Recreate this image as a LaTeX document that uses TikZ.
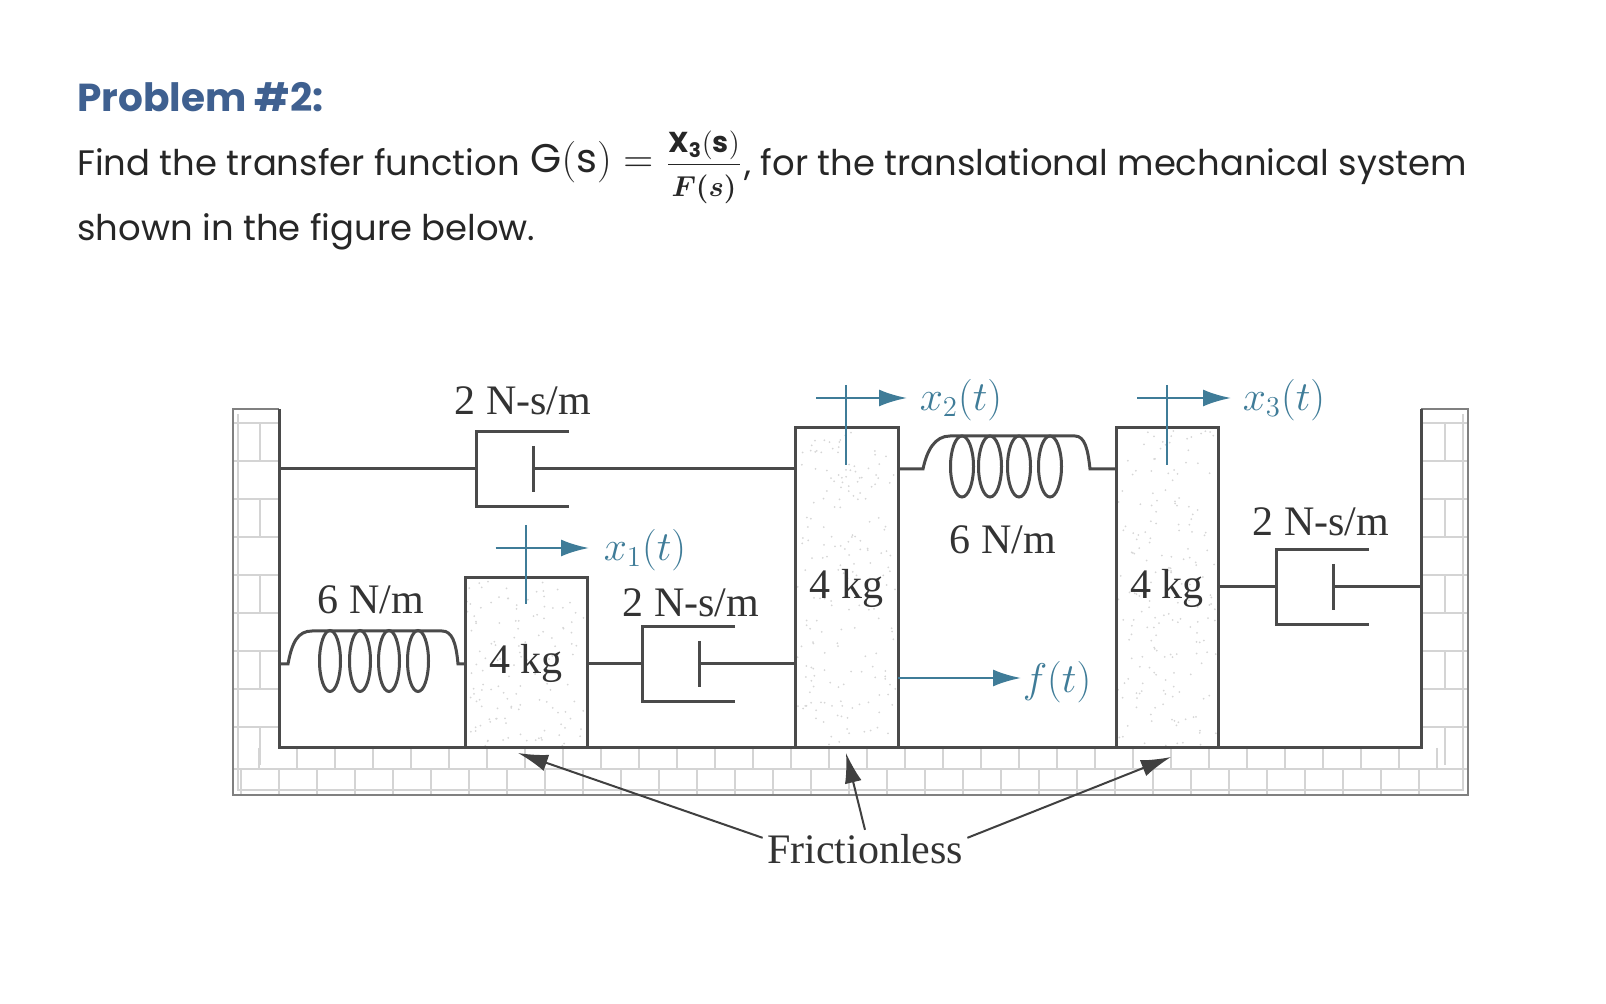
\documentclass[tikz,border=0pt]{standalone}
\usepackage{amsmath}
\usepackage{fontspec}
\setmainfont{Poppins}
\newfontfamily\diagfont{Liberation Serif}
\usetikzlibrary{arrows.meta}
\definecolor{headblue}{HTML}{3F6090}
\definecolor{sigblue}{HTML}{3F7C98}
\definecolor{linegray}{HTML}{4A4A4A}
\definecolor{brickgray}{HTML}{D4D4D4}
\definecolor{dotgray}{HTML}{D6D6D6}
\tikzset{
	headtext/.style={anchor=base west,inner sep=0pt,text=headblue,font=\fontsize{19.5}{24}\selectfont\bfseries},
	bodytext/.style={anchor=base west,inner sep=0pt,text=black!85,font=\fontsize{17.7}{24}\selectfont},
	eqtext/.style={anchor=base west,inner sep=0pt,text=black!85,font=\fontsize{20}{24}\selectfont},
	fractext/.style={inner sep=0pt,text=black!85,font=\fontsize{14.4}{18}\selectfont},
	difftext/.style={inner sep=0pt,text=black!80,font=\diagfont\fontsize{21}{24}\selectfont},
	sigtext/.style={inner sep=0pt,text=sigblue,font=\fontsize{20.74}{24}\selectfont},
	massbox/.style={draw=linegray,line width=1.5pt,inner sep=0pt,outer sep=0pt,text=black!80,font=\diagfont\fontsize{21}{24}\selectfont},
	mech/.style={draw=linegray,line width=1.5pt},
	brick/.style={draw=brickgray,line width=.7pt},
	sigline/.style={draw=sigblue,line width=1.3pt},
	sigarrow/.style={sigline,-{Latex[length=14pt,width=8.5pt]}},
	fricarrow/.style={draw=black!75,line width=1pt,-{Latex[length=15pt,width=8.5pt]}}
}
\begin{document}
\begin{tikzpicture}[x=.5pt,y=-.5pt]
	\useasboundingbox (0,0) rectangle (1606,1004);
	% heading
	\node[headtext] (head) at (77,112) {Problem \#2:};
	\node[bodytext] (line1) at (77,176) {Find the transfer function};
	\node[eqtext] (eq) at (530,173) {$\mathrm{G(s)}=$};
	\node[fractext] (frac) at (704,167) {$\displaystyle\frac{\mathbf{X_3(s)}}{\rule{0pt}{14pt}\boldsymbol{F(s)}}$};
	\node[bodytext] (line1b) at (744,176) {, for the translational mechanical system};
	\node[bodytext] (line2) at (77,241) {shown in the figure below.};
	% bricks
	\foreach \y in {423,461,499,537,575,613,651,689,727} {
		\draw[brick] (233,\y) -- (279,\y);
		\draw[brick] (1421,\y) -- (1468,\y);
	}
	\foreach \y in {423,499,575,651,727} {
		\draw[brick] (260,\y) -- (260,\y+38);
		\draw[brick] (1445,\y) -- (1445,\y+38);
	}
	\foreach \x in {259,297,...,1450} \draw[brick] (\x,748) -- (\x,769);
	\foreach \x in {241,279,...,1450} \draw[brick] (\x,769) -- (\x,795);
	\draw[brick] (233,769) -- (1468,769);
	\draw[brick] (238,414) -- (238,790) -- (1463,790) -- (1463,414);
	% stipple
	\pgfmathsetseed{7}
	\foreach \xa/\xb/\ya/\n in {467/585/580/130,797/896/430/190,1118/1216/430/190} {
		\foreach \i in {1,...,\n} {
			\pgfmathsetmacro\px{\xa+rnd*(\xb-\xa)}
			\pgfmathsetmacro\py{\ya+rnd*(746-\ya)}
			\fill[dotgray] (\px,\py) circle (1);
		}
	}
	% walls
	\draw[draw=linegray!70,line width=1.2pt] (279,409) -- (233,409) -- (233,795) -- (1468,795) -- (1468,409) -- (1421,409);
	\draw[mech] (279,409) -- (279,748) -- (1421,748) -- (1421,409);
	% masses
	\node[massbox,minimum width=61pt,minimum height=85pt] (m1) at (526,663) {4 kg};
	\node[massbox,minimum width=51.5pt,minimum height=160pt] (m2) at (846.5,588) {4 kg};
	\node[massbox,minimum width=51pt,minimum height=160pt] (m3) at (1167,588) {4 kg};
	\coordinate (wallL) at (279,469);
	\coordinate (wallLb) at (279,664);
	\coordinate (wallR) at (1421,587);
	% dampers
	\coordinate (d1) at (476,469);
	\coordinate (d2) at (642,664);
	\coordinate (d3) at (1276,587);
	\foreach \cupx/\y in {476/469,642/664,1276/587} {
		\draw[mech] (\cupx+93,\y-37.5) -- (\cupx,\y-37.5) -- (\cupx,\y+37.5) -- (\cupx+93,\y+37.5);
		\draw[mech] (\cupx+57,\y-23) -- (\cupx+57,\y+23);
	}
	\coordinate (p1) at (533,469);
	\coordinate (p2) at (698,664);
	\coordinate (p3) at (1333,587);
	\draw[mech] (wallL) -- (d1);
	\draw[mech] (p1) -- (m2.west |- p1);
	\draw[mech] (m1.east |- d2) -- (d2);
	\draw[mech] (p2) -- (m2.west |- p2);
	\draw[mech] (m3.east |- d3) -- (d3);
	\draw[mech] (p3) -- (wallR);
	% springs
	\draw[mech] (wallLb) -- (288,664) .. controls (292,642) and (298,631) .. (312,631) -- (442,631) .. controls (452,631) and (456,642) .. (458,664) -- (m1.west |- wallLb);
	\foreach \cx in {330,360,389,418} \draw[mech] (\cx,661) ellipse [x radius=10.5,y radius=30.5];
	\coordinate (s2) at (923,469);
	\draw[mech] (m2.east |- s2) -- (s2) .. controls (927,450) and (935,436) .. (950,436) -- (1075,436) .. controls (1085,436) and (1088,450) .. (1090,469) -- (m3.west |- s2);
	\foreach \cx in {962,990,1019,1050} \draw[mech] (\cx,466.5) ellipse [x radius=11.5,y radius=30.5];
	% displacements
	\node[sigtext] (x1) at (645,550) {$x_1(t)$};
	\node[sigtext] (x2) at (961,400) {$x_2(t)$};
	\node[sigtext] (x3) at (1284,400) {$x_3(t)$};
	\node[sigtext] (ft) at (1057,682) {$f(t)$};
	\draw[sigline] (526,525) -- (526,604);
	\draw[sigline] (846,385) -- (846,465);
	\draw[sigline] (1167,385) -- (1167,465);
	\draw[sigarrow] (495.5,548) -- (589,548);
	\draw[sigarrow] (816,398) -- (907,398);
	\draw[sigarrow] (1137,398) -- (1231,398);
	\coordinate (ftip) at (1021,678);
	\draw[sigarrow] (m2.east |- ftip) -- (ftip);
	% values
	\node[difftext] (b1) at (523,401) {2 N-s/m};
	\node[difftext] (k1) at (371,600) {6 N/m};
	\node[difftext] (b2) at (691,603) {2 N-s/m};
	\node[difftext] (k2) at (1003,540) {6 N/m};
	\node[difftext] (b3) at (1321,522) {2 N-s/m};
	% frictionless
	\node[difftext,inner sep=2pt] (fric) at (865,849) {Frictionless};
	\coordinate (tip1) at (518,753);
	\coordinate (tip2) at (846,753);
	\coordinate (tip3) at (1171,757);
	\draw[fricarrow] ([yshift=-4pt]fric.north west) -- (tip1);
	\draw[fricarrow] (fric.north) -- (tip2);
	\draw[fricarrow] ([yshift=-4pt]fric.north east) -- (tip3);
\end{tikzpicture}
\end{document}
